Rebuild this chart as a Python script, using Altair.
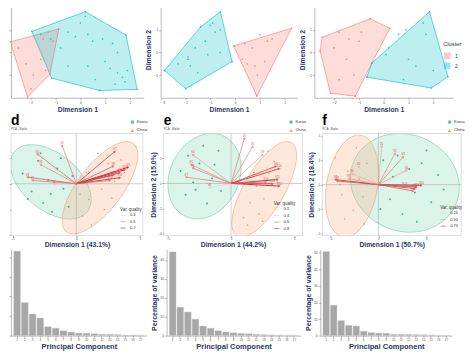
import altair as alt
import numpy as np
import pandas as pd

FONT = "Liberation Sans"
NAVY = "#2a3566"
PINK = "#F8766D"
CYAN = "#00BFC4"
GREEN = "#1f9e6a"
ORANGE = "#e8782f"

# ---------------- Row 1: cluster hulls (a, b, c) ----------------
a_h1_x = [-2.83, -0.87, -1.23, -2.13]
a_h1_y = [0.47, 1.04, -0.96, -1.97]
a_h2_x = [-1.96, 0.20, 1.84, 2.29, 0.77, -1.16]
a_h2_y = [0.93, 1.80, 0.77, -1.63, -1.68, -1.13]
a_p1_x = [-2.5, -2.2, -1.9, -1.5, -1.6, -2.0, -1.3, -1.1, -1.4]
a_p1_y = [0.2, -0.5, -1.0, 0.6, -0.3, -1.6, 0.9, 0.5, -0.8]
a_p2_x = [-0.5, 0.0, 0.2, 0.3, -0.2, 0.5, 0.9, 1.3, -0.8, -0.5, 0.3, 1.0, 1.2, 1.5, 1.7, 1.9, 0.6, 1.4, -1.6, -1.2, 1.5, 1.8]
a_p2_y = [0.9, 1.3, 1.6, 0.8, 0.7, 0.5, 0.6, 0.4, 0.2, -0.6, -0.6, -0.4, -0.7, -0.9, -1.1, -0.8, -1.2, -1.4, 0.8, 0.6, 0.0, -1.3]

b_h1_x = [-0.05, 2.28, 0.88]
b_h1_y = [0.29, 1.07, -1.93]
b_h2_x = [-2.85, -1.39, -0.59, -0.12, -1.99]
b_h2_y = [-0.80, 1.13, 1.80, -0.40, -1.60]
b_p1_x = [0.4, 1.0, 1.3, 0.7, 0.5, 0.8, 1.2, 0.9, 0.3, 1.5]
b_p1_y = [0.4, 0.8, 0.5, 0.2, -0.5, -0.6, -0.4, -1.0, -0.3, 0.6]
b_p2_x = [-2.3, -1.9, -1.8, -1.6, -1.2, -1.0, -0.9, -0.8, -1.5, -1.1, -0.6, -1.9, -0.6]
b_p2_y = [-0.5, -0.3, -0.6, 0.2, 0.5, 1.2, 1.3, 0.9, -0.9, -0.1, 0.0, -0.2, 1.0]

c_h1_x = [-2.48, -0.55, 0.25, -0.48, -1.15, -2.15, -2.57]
c_h1_y = [0.67, 1.49, 1.07, -0.47, -1.93, -1.80, 0.07]
c_h2_x = [-0.48, 1.85, 2.59, 1.92, -0.68]
c_h2_y = [-0.47, 1.80, -1.07, -1.57, -1.09]
c_p1_x = [-1.8, -1.4, -0.9, -1.0, -2.0, -1.5, -1.2, -1.8]
c_p1_y = [0.9, 0.6, 0.9, 0.5, 0.2, -0.3, -1.0, -1.2]
c_p2_x = [0.2, 0.6, 0.9, 1.6, 1.7, 1.0, 1.3, 0.8, 0.1, 2.0]
c_p2_y = [0.2, 0.8, 1.0, 1.3, 0.8, -0.3, -0.6, -1.2, -0.1, -0.8]

# ---------------- Row 2: PCA biplots (d, e, f) ----------------
# ellipse parameters: centre x, centre y, semi-axis a, semi-axis b, angle (deg)
d_ell_korea = [-2.0, 0.15, 3.7, 2.2, -40]
d_ell_china = [1.86, -0.31, 4.34, 1.75, 53]
e_ell_korea = [-2.1, 0.58, 3.54, 2.73, 65]
e_ell_china = [2.62, -0.47, 4.3, 1.6, 60]
f_ell_korea = [2.75, 0.19, 5.75, 4.97, -20]
f_ell_china = [-2.75, -0.15, 5.3, 2.64, 80]

d_k_x = [-4.2, -3.5, -3.0, -2.6, -2.2, -1.9, -1.5, -1.0, -0.6, -3.8, -2.8, -1.2, -0.3, -2.0]
d_k_y = [0.8, -0.6, 1.8, -1.5, 0.3, -2.2, 1.2, -0.4, -1.8, -1.2, 2.4, 2.0, 0.6, -0.8]
d_c_x = [0.5, 1.0, 1.5, 2.0, 2.5, 3.0, 3.5, 2.2, 1.2, 0.8, 3.8, 2.8, 1.7, 0.3]
d_c_y = [-2.5, -1.2, 0.5, -0.4, 1.6, 0.2, 1.9, -2.0, -3.2, 0.9, 0.9, -1.1, 2.4, -0.8]
e_k_x = [-4.0, -3.4, -2.8, -2.5, -1.9, -1.5, -1.0, -3.6, -2.2, -0.8, -1.3, -3.0]
e_k_y = [1.0, 2.2, -0.5, 1.6, -1.6, 0.4, 2.6, -0.9, 3.0, -0.6, 1.5, 0.1]
e_c_x = [1.0, 1.5, 2.0, 2.6, 3.0, 3.4, 2.2, 3.7, 1.8, 2.9, 1.3, 2.5]
e_c_y = [-2.7, -1.5, -0.2, -1.2, 0.8, 1.8, -2.4, 0.1, 0.9, 2.6, -3.3, -3.0]
f_k_x = [0.5, 1.2, 2.0, 2.5, 3.2, 3.8, 4.5, 5.5, 6.2, 1.5, 4.0, 6.8, 0.2, 5.0]
f_k_y = [2.5, -1.5, 3.0, -3.0, 1.6, -0.8, 2.2, -1.8, 1.0, 0.8, -3.8, -0.5, -2.5, 3.5]
f_c_x = [-4.5, -3.8, -3.2, -2.6, -2.0, -1.5, -3.5, -1.2, -4.0, -2.3, -1.6]
f_c_y = [2.8, -1.0, 1.4, -2.6, 0.6, -4.0, -3.5, 2.2, 0.0, 3.8, -1.2]

d_arr_x = [-1.11, -3.05, -2.79, -3.82, -3.44, -1.76, 3.02, 2.89, 4.06, 3.80, 3.41, 2.89, 3.41, 2.64]
d_arr_y = [3.00, 2.33, 1.50, 0.52, 0.26, -0.05, 2.53, 1.37, 1.29, 1.09, 0.85, 0.67, 0.47, 0.26]
d_arr_q = [0.45, 0.50, 0.40, 0.55, 0.50, 0.15, 0.60, 0.55, 0.72, 0.70, 0.65, 0.60, 0.68, 0.50]
e_arr_x = [1.05, 1.71, 2.49, -3.02, -3.15, -3.02, -3.54, -1.71, 3.54, 3.81, 3.67, 3.81, 3.28, 2.76]
e_arr_y = [3.60, 2.94, 2.28, 2.28, 1.50, 1.23, 0.50, -0.34, 1.36, 1.18, 0.31, -0.21, -0.03, 0.13]
e_arr_q = [0.50, 0.45, 0.40, 0.40, 0.45, 0.50, 0.50, 0.15, 0.70, 0.75, 0.80, 0.80, 0.75, 0.60]
f_arr_x = [0.34, 1.72, 2.58, 2.92, -2.06, -2.75, -4.47, -4.30, -3.09, 4.47, 3.78, 3.61, 3.95, 2.75]
f_arr_y = [3.95, 3.20, 2.85, 1.48, 1.82, 1.13, 0.52, 0.38, 0.62, -0.07, -0.41, -0.65, -0.24, -0.17]
f_arr_q = [0.40, 0.50, 0.55, 0.45, 0.30, 0.40, 0.75, 0.70, 0.50, 0.80, 0.70, 0.65, 0.75, 0.60]
arr_names = ["V1", "V2", "V3", "V4", "V5", "V6", "V7", "V8", "V9", "V10", "V11", "V12", "V13", "V14"]

# ---------------- Row 3: scree plots ----------------
pcs = list(range(1, 18))
d_var = [43.1, 16.9, 11.1, 9.0, 4.6, 3.8, 2.5, 1.8, 1.3, 1.2, 1.0, 0.7, 0.7, 0.5, 0.3, 0.3, 0.2]
e_var = [44.2, 15.0, 12.5, 8.7, 5.1, 3.9, 2.6, 1.9, 1.5, 1.2, 1.0, 0.7, 0.5, 0.4, 0.3, 0.2, 0.2]
f_var = [50.7, 18.4, 9.1, 6.2, 5.8, 2.7, 1.9, 1.5, 1.4, 0.8, 0.8, 0.7, 0.6, 0.5, 0.4, 0.2, 0.2]


def poly_df(xs, ys):
    return pd.DataFrame({"x": xs + [xs[0]], "y": ys + [ys[0]], "o": list(range(len(xs) + 1))})


def ellipse_df(p, n=90):
    cx, cy, a, b, ang = p
    t = np.linspace(0, 2 * np.pi, n)
    th = np.radians(ang)
    x = cx + a * np.cos(t) * np.cos(th) - b * np.sin(t) * np.sin(th)
    y = cy + a * np.cos(t) * np.sin(th) + b * np.sin(t) * np.cos(th)
    return pd.DataFrame({"x": x, "y": y, "o": np.arange(n)})


def cluster_panel(h1, h2, p1, p2, xdom, ydom, w, h, ytitle, show_legend, legx=0, legy=0):
    xs = alt.Scale(domain=xdom, nice=False, zero=False)
    ys = alt.Scale(domain=ydom, nice=False, zero=False)
    xax = alt.Axis(title="Dimension 1", labelFontSize=3.5, labelPadding=1, titlePadding=2,
                   titleFontSize=6.8, tickCount=5)
    if ytitle:
        yax = alt.Axis(title="Dimension 2", labelFontSize=3.5, labelPadding=1, titlePadding=2,
                       titleFontSize=6.8, values=[-1, 0, 1])
    else:
        yax = alt.Axis(title=None, labels=False, values=[-1, 0, 1])
    X = alt.X("x:Q", scale=xs, axis=xax)
    Y = alt.Y("y:Q", scale=ys, axis=yax)
    layers = []
    for (hx, hy), col in [(h1, PINK), (h2, CYAN)]:
        layers.append(alt.Chart(poly_df(hx, hy)).mark_line(
            fill=col, fillOpacity=0.26, stroke=col, strokeWidth=0.6, clip=True
        ).encode(x=X, y=Y, order="o:Q"))
    pts = pd.DataFrame({
        "x": p1[0] + p2[0] + h1[0] + h2[0],
        "y": p1[1] + p2[1] + h1[1] + h2[1],
        "cl": ["1"] * len(p1[0]) + ["2"] * len(p2[0]) + ["1"] * len(h1[0]) + ["2"] * len(h2[0]),
    })
    if show_legend:
        leg = alt.Legend(title="Cluster", orient="none", legendX=legx, legendY=legy,
                         symbolType="square", symbolSize=45, symbolOpacity=0.4,
                         symbolStrokeWidth=0.8, titleFontSize=5.8, titleFontWeight="normal",
                         titleColor="#333", labelFontSize=5, labelColor="#333", rowPadding=2)
    else:
        leg = None
    layers.append(alt.Chart(pts).mark_point(filled=True, size=3, opacity=0.8).encode(
        x=X, y=Y,
        color=alt.Color("cl:N", scale=alt.Scale(domain=["1", "2"], range=[PINK, CYAN]), legend=leg)))
    return alt.layer(*layers).properties(width=w, height=h)


def biplot(tag, xdom, ydom, xvals, yvals, ek, ec, kx, ky, cx, cy, ax, ay, aq,
           qdom, qvals, qfmt, xtitle, ytitle, w, h, l1, l2):
    xs = alt.Scale(domain=xdom, nice=False, zero=False)
    ys = alt.Scale(domain=ydom, nice=False, zero=False)
    xax = alt.Axis(title=xtitle, values=xvals, labelFontSize=3, labelPadding=0, titlePadding=1,
                   titleFontSize=6.8, domain=False)
    if ytitle:
        yax = alt.Axis(title=ytitle, values=yvals, labelFontSize=3, labelPadding=0.5, titlePadding=1.5,
                       titleFontSize=6.8, domain=False)
    else:
        yax = alt.Axis(title=None, values=yvals, labels=False, domain=False)

    def X(f):
        return alt.X(f, type="quantitative", scale=xs, axis=xax)

    def Y(f):
        return alt.Y(f, type="quantitative", scale=ys, axis=yax)

    layers = []
    for p, fillc, strokec in [(ek, "#8fdcbc", "#6cc9a2"), (ec, "#f8b88e", "#f0a070")]:
        layers.append(alt.Chart(ellipse_df(p)).mark_line(
            fill=fillc, fillOpacity=0.32, stroke=strokec, strokeWidth=0.6, clip=True
        ).encode(x=X("x"), y=Y("y"), order="o:Q"))
    zero = pd.DataFrame({"z": [0.0]})
    layers.append(alt.Chart(zero).mark_rule(color="#a0a0a0", strokeWidth=0.5).encode(y=Y("z")))
    layers.append(alt.Chart(zero).mark_rule(color="#a0a0a0", strokeWidth=0.5).encode(x=X("z")))

    pts = pd.DataFrame({"x": kx + cx, "y": ky + cy,
                        "country": ["Korea"] * len(kx) + ["China"] * len(cx)})
    cleg = alt.Legend(title=None, orient="none", legendX=l1[0], legendY=l1[1], labelFontSize=4,
                      labelColor="#333", symbolSize=14, rowPadding=1.5, labelOffset=2,
                      symbolStrokeWidth=0.5)
    layers.append(alt.Chart(pts).mark_point(filled=True, size=4, opacity=0.8).encode(
        x=X("x"), y=Y("y"),
        fill=alt.Fill("country:N", scale=alt.Scale(domain=["Korea", "China"], range=[GREEN, ORANGE]), legend=cleg),
        shape=alt.Shape("country:N", scale=alt.Scale(domain=["Korea", "China"], range=["circle", "triangle-up"]), legend=cleg),
    ))

    ang = [float(np.degrees(np.arctan2(x, y)) % 360) for x, y in zip(ax, ay)]
    arr = pd.DataFrame({"x0": 0.0, "y0": 0.0, "x": ax, "y": ay, "q": aq,
                        "name": arr_names[:len(ax)], "ang": ang})
    qleg = alt.Legend(type="symbol", values=qvals, format=qfmt, title="Var. quality",
                      orient="none", legendX=l2[0], legendY=l2[1], symbolType="stroke",
                      symbolStrokeWidth=1.3, symbolSize=25, titleFontSize=4.5,
                      titleFontWeight="normal", titleColor="#333", labelFontSize=4,
                      labelColor="#333", rowPadding=1.5, titlePadding=1)
    qscale = alt.Scale(domain=qdom, range=["#f4c4c4", "#c8102e"])
    layers.append(alt.Chart(arr).mark_rule().encode(
        x=X("x0"), y=Y("y0"), x2="x", y2="y",
        stroke=alt.Stroke("q:Q", scale=qscale, legend=qleg),
        strokeWidth=alt.StrokeWidth("q:Q", scale=alt.Scale(domain=qdom, range=[0.35, 1.0]), legend=None),
    ))
    layers.append(alt.Chart(arr).mark_point(shape="triangle-up", filled=False, size=4, strokeWidth=0.8).encode(
        x=X("x"), y=Y("y"),
        angle=alt.Angle("ang:Q", scale=None),
        stroke=alt.Stroke("q:Q", scale=qscale, legend=qleg),
    ))
    layers.append(alt.Chart(arr).mark_text(fontSize=2.8, color="#e0405a", dy=-2.5).encode(
        x=X("x"), y=Y("y"), text="name:N"))

    return alt.layer(*layers).properties(
        width=w, height=h,
        view=alt.ViewBackground(stroke="#c8c8c8", strokeWidth=0.6),
        title=alt.TitleParams(text=tag, subtitle="PCA - Biplot", anchor="start", frame="group",
                              fontSize=14, fontWeight="bold", color="black", offset=-12,
                              subtitleFontSize=3, subtitleColor="#555", subtitlePadding=0),
    )


def scree(vals, ymax, yvals, ytitle, w, h):
    df = pd.DataFrame({"pc": pcs, "v": vals})
    if ytitle:
        yax = alt.Axis(title="Percentage of variance", values=yvals, labelFontSize=3.5, labelPadding=1,
                       titlePadding=2, titleFontSize=7)
    else:
        yax = alt.Axis(title=None, values=yvals, labels=False)
    return alt.Chart(df).mark_bar(color="#a7a7a7", stroke="#d2d2d2", strokeWidth=0.4).encode(
        x=alt.X("pc:O", scale=alt.Scale(paddingInner=0.12, paddingOuter=0.35),
                axis=alt.Axis(title="Principal Component", labelAngle=0, labelFontSize=3,
                              labelPadding=1, titlePadding=1, titleFontSize=7.6, ticks=True)),
        y=alt.Y("v:Q", scale=alt.Scale(domain=[0, ymax], nice=False), axis=yax),
    ).properties(width=w, height=h)


indep = dict(color="independent", fill="independent", shape="independent",
             stroke="independent", strokeWidth="independent", x="independent", y="independent")

row1 = alt.hconcat(
    cluster_panel((a_h1_x, a_h1_y), (a_h2_x, a_h2_y), (a_p1_x, a_p1_y), (a_p2_x, a_p2_y),
                  [-2.8, 2.56], [-2.0, 2.25], 134, 97, False, False),
    cluster_panel((b_h1_x, b_h1_y), (b_h2_x, b_h2_y), (b_p1_x, b_p1_y), (b_p2_x, b_p2_y),
                  [-3.0, 2.52], [-2.0, 2.25], 138, 97, True, False),
    cluster_panel((c_h1_x, c_h1_y), (c_h2_x, c_h2_y), (c_p1_x, c_p1_y), (c_p2_x, c_p2_y),
                  [-2.8, 2.8], [-2.0, 2.25], 140, 97, True, True, 130, 40),
    spacing=2,
).resolve_scale(**indep)

row2 = alt.hconcat(
    biplot("d", [-5.12, 5.22], [-4.06, 3.95], [-5, 0, 5], [-4, -2, 0, 2, 4],
           d_ell_korea, d_ell_china, d_k_x, d_k_y, d_c_x, d_c_y, d_arr_x, d_arr_y, d_arr_q,
           [0.1, 0.75], [0.3, 0.5, 0.7], ".1f", "Dimension 1 (43.1%)", None, 133, 103,
           (120, -14), (110, 74)),
    biplot("e", [-5.33, 5.64], [-4.15, 3.99], [-5, 0, 5], [-4, -2, 0, 2, 4],
           e_ell_korea, e_ell_china, e_k_x, e_k_y, e_c_x, e_c_y, e_arr_x, e_arr_y, e_arr_q,
           [0.1, 0.85], [0.2, 0.4, 0.6, 0.8], ".1f", "Dimension 1 (44.2%)", "Dimension 2 (15.0%)",
           140, 103, (126, -14), (111, 68)),
    biplot("f", [-5.84, 8.6], [-5.22, 5.26], [-5, 0, 5], [-5, -2.5, 0, 2.5, 5],
           f_ell_korea, f_ell_china, f_k_x, f_k_y, f_c_x, f_c_y, f_arr_x, f_arr_y, f_arr_q,
           [0.2, 0.85], [0.25, 0.5, 0.75], ".2f", "Dimension 1 (50.7%)", "Dimension 2 (18.4%)",
           140, 103, (126, -14), (119, 72)),
    spacing=1,
).resolve_scale(**indep)

row3 = alt.hconcat(
    scree(d_var, 44, [0, 10, 20, 30, 40], False, 137, 87),
    scree(e_var, 45.5, [0, 10, 20, 30, 40], True, 135, 87),
    scree(f_var, 52, [0, 10, 20, 30, 40, 50], True, 133, 87),
    spacing=4,
).resolve_scale(**indep)

chart = alt.vconcat(row1, row2, row3, spacing=0).resolve_scale(**indep).properties(
    padding={"left": 0, "top": -8, "right": 0, "bottom": 0}
).configure_view(stroke=None).configure_axis(
    grid=False, domainColor="#8a8a8a", tickColor="#8a8a8a", domainWidth=0.6, tickWidth=0.6,
    tickSize=2, labelColor="#555", labelFont=FONT, titleFont=FONT, titleColor=NAVY,
    titleFontWeight="bold",
).configure_legend(labelFont=FONT, titleFont=FONT).configure_title(font=FONT, subtitleFont=FONT)

chart.save("out.html", embed_options={"renderer": "svg", "actions": False})
